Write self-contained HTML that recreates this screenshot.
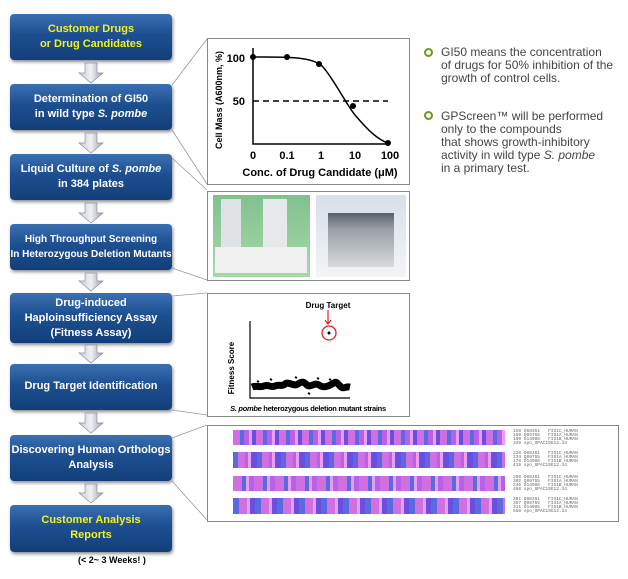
<!DOCTYPE html>
<html><head><meta charset="utf-8"><style>
body{margin:0;width:628px;height:579px;background:#fff;position:relative;overflow:hidden;font-family:"Liberation Sans",sans-serif}
.b{position:absolute;left:10px;width:162px;border-radius:4px;background:linear-gradient(#3a70b2,#1d4f90 45%,#123f7a);box-shadow:1px 2px 3px rgba(0,0,0,.45);color:#fff;font-weight:bold;font-size:11px;text-align:center;line-height:15px;box-sizing:border-box}
.y{color:#f3f01e}
.p{position:absolute;border:1px solid #888;background:#fff}
.t{position:absolute;left:441px;font-size:12px;line-height:13px;color:#444;font-family:"Liberation Sans",sans-serif}
.dot{position:absolute;left:424px;width:5px;height:5px;border:2px solid #6a9a1e;border-radius:50%}
.lb{position:absolute;left:513px;font:4.5px 'Liberation Mono',monospace;color:#666;line-height:4px;white-space:pre}
</style></head><body>
<div class="b" style="top:14px;height:46px;padding-top:8px"><span class="y">Customer Drugs<br>or Drug Candidates</span></div>
<div class="b" style="top:84px;height:46px;padding-top:8px">Determination of GI50<br>in wild type <i>S. pombe</i></div>
<div class="b" style="top:154px;height:46px;padding-top:8px">Liquid Culture of <i>S. pombe</i><br>in 384 plates</div>
<div class="b" style="top:224px;height:46px;padding-top:8px;font-size:10px">High Throughput Screening<br>In Heterozygous Deletion Mutants</div>
<div class="b" style="top:293px;height:50px;padding-top:3px">Drug-induced<br>Haploinsufficiency Assay<br>(Fitness Assay)</div>
<div class="b" style="top:364px;height:46px;padding-top:15px">Drug Target Identification</div>
<div class="b" style="top:435px;height:46px;padding-top:8px">Discovering Human Orthologs<br>Analysis</div>
<div class="b" style="top:505px;height:47px;padding-top:8px"><span class="y">Customer Analysis<br>Reports</span></div>
<div style="position:absolute;left:78px;top:555px;font-size:9px;font-weight:bold">(&lt; 2~ 3 Weeks! )</div>
<svg style="position:absolute;left:0;top:0" width="628" height="579">
<defs><linearGradient id="g" x1="0" x2="1"><stop offset="0" stop-color="#c8ccd6"/><stop offset=".5" stop-color="#eef0f4"/><stop offset="1" stop-color="#9aa0ac"/></linearGradient></defs>
<g fill="url(#g)" stroke="#8a90a0" stroke-width=".7">
<path d="M85 63h12v10h6l-12 10-12-10h6z"/><path d="M85 133h12v10h6l-12 10-12-10h6z"/><path d="M85 203h12v10h6l-12 10-12-10h6z"/><path d="M85 273h12v8h6l-12 10-12-10h6z"/><path d="M85 345h12v8h6l-12 10-12-10h6z"/><path d="M85 413h12v10h6l-12 10-12-10h6z"/><path d="M85 484h12v9h6l-12 10-12-10h6z"/></g>
<g stroke="#999" stroke-width=".8"><line x1="172" y1="85" x2="207" y2="39"/><line x1="172" y1="130" x2="207" y2="184"/><line x1="172" y1="158" x2="207" y2="190"/><line x1="172" y1="268" x2="207" y2="280"/><line x1="172" y1="296" x2="207" y2="293"/><line x1="172" y1="410" x2="207" y2="415"/><line x1="172" y1="438" x2="207" y2="425"/><line x1="172" y1="481" x2="207" y2="520"/></g>
</svg>
<div class="p" style="left:207px;top:38px;width:201px;height:145px"></div>
<svg style="position:absolute;left:207px;top:38px" width="202" height="146" font-family="Liberation Sans" font-weight="bold">
<g stroke="#000" stroke-width="1.5" fill="none"><path d="M46 10V106H181"/><path d="M46 19c30 0 60-1 70 10 10 11 25 40 32 48s20 24 33 28"/><path d="M46 63H181" stroke-dasharray="6 4"/></g>
<g fill="#000"><circle cx="46" cy="19" r="3"/><circle cx="80" cy="19" r="3"/><circle cx="112" cy="26" r="3"/><circle cx="146" cy="68" r="3"/><circle cx="181" cy="105" r="3"/></g>
<g font-size="11" text-anchor="end"><text x="38" y="24">100</text><text x="38" y="67">50</text></g>
<g font-size="11" text-anchor="middle"><text x="46" y="121">0</text><text x="80" y="121">0.1</text><text x="114" y="121">1</text><text x="148" y="121">10</text><text x="183" y="121">100</text><text x="113" y="138">Conc. of Drug Candidate (μM)</text></g>
<text transform="translate(15,62) rotate(-90)" font-size="9" text-anchor="middle">Cell Mass (A600nm, %)</text>
</svg>
<div class="p" style="left:207px;top:191px;width:201px;height:88px"></div>
<div style="position:absolute;left:213px;top:195px;width:97px;height:82px;background:linear-gradient(#7fc28e,#a8d8a8)"><div style="position:absolute;left:8px;top:4px;width:20px;height:62px;background:#dfe2e4"></div><div style="position:absolute;left:50px;top:4px;width:24px;height:62px;background:#e6e8ea"></div><div style="position:absolute;left:2px;top:52px;width:92px;height:26px;background:#f0f0f0"></div></div>
<div style="position:absolute;left:316px;top:195px;width:90px;height:82px;background:linear-gradient(#d8dfea,#f3f4f6)"><div style="position:absolute;left:12px;top:18px;width:66px;height:54px;background:linear-gradient(#5a6068,#9aa0a6 30%,#d8dadc)"></div></div>
<div class="p" style="left:207px;top:293px;width:201px;height:122px"></div>
<svg style="position:absolute;left:207px;top:293px" width="202" height="123" font-family="Liberation Sans" font-weight="bold">
<text x="121" y="15" font-size="8" text-anchor="middle">Drug Target</text>
<path d="M121 17v13" stroke="#d00" stroke-width="1"/><path d="M118 27l3 4 3-4" fill="none" stroke="#d00"/>
<circle cx="122" cy="40" r="7" fill="none" stroke="#d22" stroke-width="1.3"/><circle cx="122" cy="40" r="1.5"/>
<path d="M43 28V105H143" stroke="#000" stroke-width="1.2" fill="none"/>
<path d="M45 94c5-2 8 1 12-1s6 2 11 0 7 1 10-2 9 3 13 0 6-2 9 1 8-3 12 0 8 2 13-1 4-2 8 2 5 0 10 1" stroke="#000" stroke-width="7" fill="none"/>
<path d="M50 88l2 1M63 86l2 1M88 84l2 1M110 85l2 1M122 86l2 1M101 100l2 1" stroke="#000" stroke-width="2"/>
<text transform="translate(27,75) rotate(-90)" font-size="8" text-anchor="middle">Fitness Score</text>
<text x="101" y="118" font-size="7.5" text-anchor="middle" letter-spacing="-.3"><tspan font-style="italic">S. pombe</tspan> heterozygous deletion mutant strains</text>
</svg>
<div class="p" style="left:207px;top:425px;width:410px;height:95px"></div>
<div style="position:absolute;left:233px;top:430px;width:272px;height:15px;background:repeating-linear-gradient(90deg,#d070e0 0 7px,#5a6ae0 7px 11px,#b860e8 11px 16px,#e6a0f0 16px 19px,#6b4ee0 19px 23px)"></div>
<div style="position:absolute;left:233px;top:452px;width:272px;height:16px;background:repeating-linear-gradient(90deg,#5a6ae0 0 5px,#d070e0 5px 12px,#b860e8 12px 15px,#e6a0f0 15px 18px,#6b4ee0 18px 24px)"></div>
<div style="position:absolute;left:233px;top:476px;width:272px;height:15px;background:repeating-linear-gradient(90deg,#d070e0 0 9px,#5a6ae0 9px 13px,#e6a0f0 13px 16px,#b860e8 16px 21px)"></div>
<div style="position:absolute;left:233px;top:498px;width:272px;height:16px;background:repeating-linear-gradient(90deg,#5a6ae0 0 6px,#d070e0 6px 14px,#e6a0f0 14px 17px,#6b4ee0 17px 22px)"></div>
<div class="lb" style="top:430px">159 O60351   FIS1C_HUMAN
165 Q99755   FIS1A_HUMAN
109 O14986   FIS1B_HUMAN
349 spo_SPAC19G12.14</div>
<div class="lb" style="top:452px">226 O60351   FIS1C_HUMAN
234 Q99755   FIS1A_HUMAN
178 O14986   FIS1B_HUMAN
419 spo_SPAC19G12.14</div>
<div class="lb" style="top:476px">296 O60351   FIS1C_HUMAN
302 Q99755   FIS1A_HUMAN
246 O14986   FIS1B_HUMAN
488 spo_SPAC19G12.14</div>
<div class="lb" style="top:498px">361 O60351   FIS1C_HUMAN
367 Q99755   FIS1A_HUMAN
311 O14986   FIS1B_HUMAN
558 spo_SPAC19G12.14</div>
<div class="dot" style="top:48px"></div>
<div class="t" style="top:46px">GI50 means the concentration<br>of drugs for 50% inhibition of the<br>growth of control cells.</div>
<div class="dot" style="top:111px"></div>
<div class="t" style="top:110px">GPScreen™ will be performed<br>only to the compounds<br>that shows growth-inhibitory<br>activity in wild type <i>S. pombe</i><br>in a primary test.</div>
</body></html>
